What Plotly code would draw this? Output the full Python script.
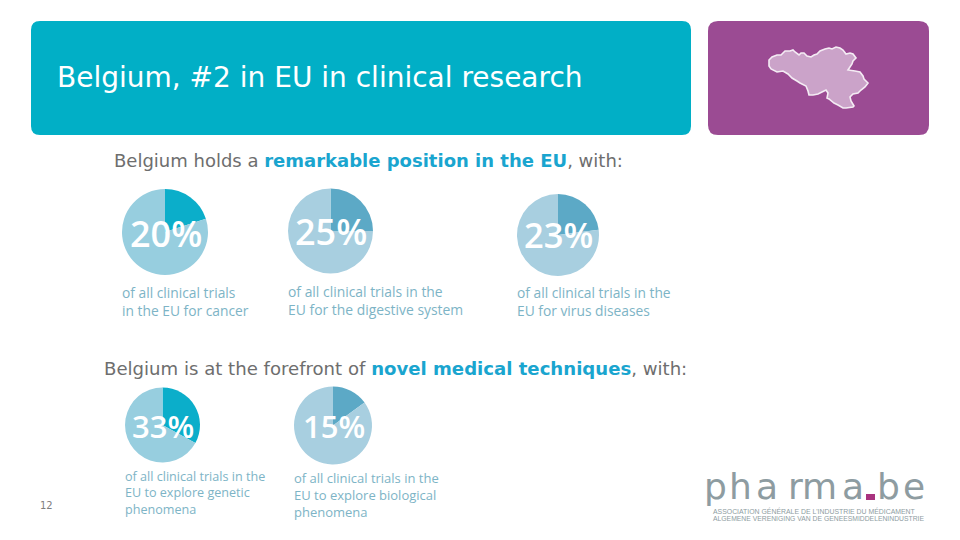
import plotly.graph_objects as go

W, H = 960, 540

# Data
shares = [20, 25, 23, 33, 15]
share_labels = ["20%", "25%", "23%", "33%", "15%"]
captions = [
    ["of all clinical trials", "in the EU for cancer"],
    ["of all clinical trials in the", "EU for the digestive system"],
    ["of all clinical trials in the", "EU for virus diseases"],
    ["of all clinical trials in the", "EU to explore genetic", "phenomena"],
    ["of all clinical trials in the", "EU to explore biological", "phenomena"],
]
pie_dark = ["#0BAECA", "#5CA9C6", "#5CA9C6", "#0BAECA", "#5CA9C6"]
pie_light = ["#97CEDF", "#A8CFE0", "#A8CFE0", "#97CEDF", "#A8CFE0"]
# centre x, centre y, radius in page pixels
pie_geo = [(165, 232, 43), (330.5, 231, 42.5), (558, 235, 41), (162.5, 425, 37.5), (333, 425.5, 39)]
label_pos = [(166, 233, 36), (331, 231, 36), (558, 235, 34.5), (163, 426, 31), (334, 426, 31)]
caption_pos = [(121, 301), (287, 300), (516, 301), (124, 493), (293, 495)]
caption_size = [13.8, 13.9, 13.8, 12.6, 13]
logo_letters = list("pharma") + list("be")
logo_left = [703, 728, 755, 787, 801, 841, 876, 902]

belgium_outline = [
    (769, 60), (772, 57), (777, 55), (781, 55), (785, 51), (790, 51), (793, 50), (795, 52), (799, 55), (801, 53),
    (804, 53), (807, 56), (811, 57), (814, 55), (817, 54), (820, 51), (825, 49), (829, 48), (832, 49), (836, 47),
    (840, 48), (843, 50), (846, 54), (850, 53), (853, 54), (856, 58), (853, 61), (852, 64), (848, 70), (855, 71),
    (860, 72), (863, 76), (864, 79), (867, 82), (868, 83), (865, 87), (861, 90), (858, 93), (853, 94), (850, 97),
    (851, 101), (854, 106), (853, 107), (846, 108), (843, 108), (838, 105), (834, 103), (829, 99), (827, 98), (828, 93),
    (826, 90), (822, 92), (818, 94), (813, 95), (809, 95), (808, 91), (806, 86), (800, 83), (797, 81), (792, 78),
    (788, 74), (783, 71), (777, 72), (771, 69), (769, 66),
]


def fx(x):
    return x / W


def fy(y):
    return 1 - y / H


def rounded(x0, y0, x1, y1, r):
    return (
        f"M {fx(x0 + r)} {fy(y0)} L {fx(x1 - r)} {fy(y0)} Q {fx(x1)} {fy(y0)} {fx(x1)} {fy(y0 + r)} "
        f"L {fx(x1)} {fy(y1 - r)} Q {fx(x1)} {fy(y1)} {fx(x1 - r)} {fy(y1)} "
        f"L {fx(x0 + r)} {fy(y1)} Q {fx(x0)} {fy(y1)} {fx(x0)} {fy(y1 - r)} "
        f"L {fx(x0)} {fy(y0 + r)} Q {fx(x0)} {fy(y0)} {fx(x0 + r)} {fy(y0)} Z"
    )


fig = go.Figure()
for share, dark, light, (cx, cy, r) in zip(shares, pie_dark, pie_light, pie_geo):
    fig.add_trace(go.Pie(
        values=[share, 100 - share],
        sort=False,
        direction="clockwise",
        rotation=0,
        marker=dict(colors=[dark, light], line=dict(width=0)),
        textinfo="none",
        hoverinfo="skip",
        showlegend=False,
        domain=dict(x=[fx(cx - r), fx(cx + r)], y=[fy(cy + r), fy(cy - r)]),
    ))

shapes = [
    dict(type="path", path=rounded(31, 21, 691, 135, 9), fillcolor="#01AFC6", line_width=0, xref="paper", yref="paper", layer="below"),
    dict(type="path", path=rounded(708, 21, 929, 135, 10), fillcolor="#9B4B93", line_width=0, xref="paper", yref="paper", layer="below"),
    dict(type="path",
         path="M " + " L ".join(f"{fx(x)} {fy(y)}" for x, y in belgium_outline) + " Z",
         fillcolor="#CBA3C9", line=dict(color="#F4ECF4", width=1.6), xref="paper", yref="paper"),
    dict(type="rect", x0=fx(866), x1=fx(875), y0=fy(500), y1=fy(494), fillcolor="#A9337F", line_width=0, xref="paper", yref="paper"),
]


def text(x, y, s, size, color, family="DejaVu Sans", anchor="left", weight=None):
    font = dict(size=size, color=color, family=family)
    if weight:
        font["weight"] = weight
    return dict(x=fx(x), y=fy(y), xref="paper", yref="paper", text=s, showarrow=False,
                xanchor=anchor, yanchor="middle", align="left", borderpad=0, font=font)


BLUE = "#1AA5CF"
GREY = "#6E6E6E"
LOGO = "#8E9CA1"
annots = [
    text(56, 77.5, "Belgium, #2 in EU in clinical research", 28, "#FFFFFF"),
    text(113, 160, f'Belgium holds a <b><span style="color:{BLUE}">remarkable position in the EU</span></b>, with:', 18, GREY),
    text(103, 368, f'Belgium is at the forefront of <b><span style="color:{BLUE}">novel medical techniques</span></b>, with:', 18.1, GREY),
    text(39, 505, "12", 10, "#7F7F7F"),
    text(712, 511, "ASSOCIATION GÉNÉRALE DE L'INDUSTRIE DU MÉDICAMENT", 6.9, LOGO, "Liberation Sans"),
    text(712, 518, "ALGEMENE VERENIGING VAN DE GENEESMIDDELENINDUSTRIE", 6.8, LOGO, "Liberation Sans"),
]
for ch, left in zip(logo_letters, logo_left):
    annots.append(text(left, 486.5, ch, 36, LOGO))
for lab, (x, y, size) in zip(share_labels, label_pos):
    annots.append(text(x, y, lab, size, "#FFFFFF", "Open Sans", "center", 600))
for lines, (x, y), size in zip(captions, caption_pos, caption_size):
    annots.append(text(x, y, "<br>".join(lines), size, "#7DB4C6", "Open Sans"))

fig.update_layout(
    width=W, height=H, margin=dict(l=0, r=0, t=0, b=0),
    paper_bgcolor="#FFFFFF", plot_bgcolor="#FFFFFF",
    shapes=shapes, annotations=annots, showlegend=False,
)
fig.write_html("out.html", config={"displayModeBar": False},
               post_script="document.body.style.margin='0';document.body.style.overflow='hidden';")
